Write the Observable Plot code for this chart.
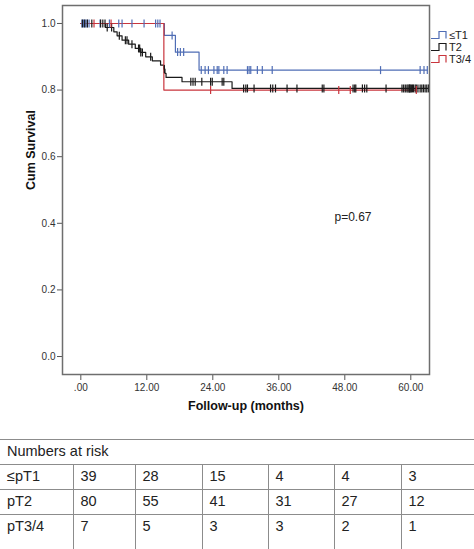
<!DOCTYPE html>
<html><head><meta charset="utf-8">
<script src="https://cdn.jsdelivr.net/npm/d3@7"></script>
<script src="https://cdn.jsdelivr.net/npm/@observablehq/plot@0.6"></script>
<style>
body{margin:0;background:#fff;font-family:Arial,"Liberation Sans",sans-serif;}
#wrap{position:relative;width:474px;height:549px;overflow:hidden;background:#fff;}
#chart svg{display:block;}
#legend{position:absolute;left:431px;top:29px;font-size:11px;color:#222;line-height:12px;}
#legend div{display:flex;align-items:center;height:12px;}
#legend svg{margin-right:1px;}
#risk{position:absolute;left:0;top:439px;width:474px;border-collapse:collapse;font-size:14.5px;color:#222;table-layout:fixed;}
#risk td{border-top:1.5px solid #8c8c8c;padding:3px 0 0 7px;vertical-align:top;line-height:17px;height:21px;}
#risk td + td{border-left:1.5px solid #8c8c8c;}
#risk tr:last-child td{height:40px;}
</style></head><body>
<div id="wrap"><div id="chart"></div><div id="legend"></div><table id="risk"></table></div>
<script>
// ---- Kaplan-Meier data ----
const groups = ["≤T1", "T2", "T3/4"];
const colors = ["#4f6db5", "#1a1a1a", "#c9353d"];

// ≤T1
const t1EventTimes = [15.2, 17.2, 21.5];
const t1Survival   = [0.964, 0.914, 0.860];
const t1Censored   = [0.2,0.5,0.8,1.1,1.5,3.5,5.2,6.9,7.5,9.3,11.5,
  13.6,14.0,14.4,16.6,17.6,18.1,18.7,21.9,22.6,23.2,
  24.2,24.8,25.1,26.0,26.6,30.3,30.6,30.9,32.1,33.0,34.8,
  54.5,61.7,62.4,63.0];

// T2
const t2EventTimes = [4.5,6.0,6.6,7.5,8.7,9.9,10.9,11.8,13.0,14.5,15.1,15.3,15.5,18.4,27.5];
const t2Survival   = [0.988,0.975,0.963,0.950,0.938,0.925,0.913,0.900,0.888,0.875,0.863,0.850,0.838,0.825,0.805];
const t2Censored   = [0.3,0.7,1.2,2.0,3.6,4.0,4.4,4.8,5.6,7.0,8.1,8.4,9.3,10.5,10.7,10.9,11.2,
  12.7,15.2,20.0,20.4,20.8,22.0,23.6,23.9,
  25.7,26.0,29.6,30.0,30.3,31.5,34.5,34.9,35.4,
  37.5,39.3,43.9,44.2,
  49.5,49.8,50.0,51.2,51.6,52.0,55.5,58.4,58.7,59.0,59.3,59.5,59.7,59.8,59.9,
  60.1,60.3,60.5,60.8,61.0,61.3,61.7,62.0,62.3,62.6,62.9,63.2];

// T3/4
const t3EventTimes = [15.1];
const t3Survival   = [0.80];
const t3Censored   = [2.4, 5.5, 23.6, 46.9, 49.0, 61.0];

// Numbers at risk
const riskHeader = "Numbers at risk";
const riskGroups = ["≤pT1", "pT2", "pT3/4"];
const riskT1 = [39, 28, 15, 4, 4, 3];
const riskT2 = [80, 55, 41, 31, 27, 12];
const riskT3 = [7, 5, 3, 3, 2, 1];

const xTicks = [0, 12, 24, 36, 48, 60];
const yTicks = [0, 0.2, 0.4, 0.6, 0.8, 1.0];
const pText = "p=0.67";

// ---- build tables ----
const series = [
  {g: groups[0], ev: t1EventTimes, sv: t1Survival, cs: t1Censored},
  {g: groups[1], ev: t2EventTimes, sv: t2Survival, cs: t2Censored},
  {g: groups[2], ev: t3EventTimes, sv: t3Survival, cs: t3Censored}
];
const lineData = [], censorData = [];
for (const {g, ev, sv, cs} of series) {
  const end = Math.max(...cs, ...ev);
  const pts = [{g, t: 0, s: 1}];
  ev.forEach((t, i) => pts.push({g, t, s: sv[i]}));
  pts.push({g, t: end, s: sv[sv.length - 1]});
  lineData.push(...pts);
  const survAt = t => { let s = 1; ev.forEach((e, i) => { if (e <= t) s = sv[i]; }); return s; };
  cs.forEach(t => censorData.push({g, t, s: survAt(t)}));
}

const vbar = {draw(ctx, size) { const r = Math.sqrt(size / Math.PI); ctx.moveTo(0, -r); ctx.lineTo(0, r); }};

const chart = Plot.plot({
  width: 474, height: 438,
  marginLeft: 62, marginRight: 45, marginTop: 5, marginBottom: 64,
  style: {fontFamily: "Arial, 'Liberation Sans', sans-serif", fontSize: "10px", color: "#333", background: "#fff"},
  x: {domain: [-3.33, 63.4]},
  y: {domain: [-0.054, 1.054]},
  color: {domain: groups, range: colors},
  marks: [
    Plot.axisY({ticks: yTicks, tickFormat: d3.format(".1f"), tickSize: 5, tickPadding: 2, stroke: "#555", label: null}),
    Plot.axisX({ticks: xTicks, tickFormat: d => d === 0 ? ".00" : d.toFixed(2), tickSize: 6, tickPadding: 3, stroke: "#555", label: null}),
    Plot.line(lineData, {x: "t", y: "s", z: "g", stroke: "g", curve: "step-after", strokeWidth: 1.2}),
    Plot.dot(censorData, {x: "t", y: "s", stroke: "g", fill: "none", symbol: vbar, r: 4, strokeWidth: 1.2}),
    Plot.frame({stroke: "#6e6e6e", strokeWidth: 1.5}),
    Plot.text(["Cum Survival"], {frameAnchor: "left", dx: -32, rotate: -90, fontWeight: "bold", fontSize: 12.5, fill: "#111"}),
    Plot.text(["Follow-up (months)"], {frameAnchor: "bottom", dy: 35, fontWeight: "bold", fontSize: 12.5, fill: "#111"}),
    Plot.text([pText], {frameAnchor: "right", dx: -58, dy: 27, fontSize: 12, fill: "#222"})
  ]
});
document.getElementById("chart").appendChild(chart);

// legend
const legend = document.getElementById("legend");
groups.forEach((g, i) => {
  const row = document.createElement("div");
  row.innerHTML = `<svg width="17" height="10"><path d="M0,8.5H8V1.5H15V8.5" fill="none" stroke="${colors[i]}" stroke-width="1.2"/></svg><span>${g}</span>`;
  legend.appendChild(row);
});

// numbers at risk table
const table = document.getElementById("risk");
const cg = document.createElement("colgroup");
[73, 62, 67, 66, 66, 67, 73].forEach(w => { const c = document.createElement("col"); c.style.width = w + "px"; cg.appendChild(c); });
table.appendChild(cg);
const hr = table.insertRow(); const hc = hr.insertCell(); hc.colSpan = 7; hc.textContent = riskHeader;
[riskT1, riskT2, riskT3].forEach((vals, i) => {
  const r = table.insertRow();
  r.insertCell().textContent = riskGroups[i];
  vals.forEach(v => { r.insertCell().textContent = v; });
});
</script>
</body></html>
